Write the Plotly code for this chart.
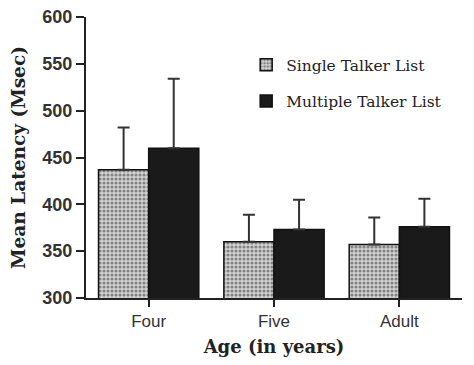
import plotly.graph_objects as go

categories = ["Four", "Five", "Adult"]
single_vals = [437, 360, 357]
single_err = [45, 29, 29]
multi_vals = [460, 373, 376]
multi_err = [74, 32, 30]
y_ticks = [300, 350, 400, 450, 500, 550, 600]

serif = "DejaVu Serif"
sans = "Liberation Sans"

fig = go.Figure()
fig.add_trace(go.Bar(
    x=categories, y=single_vals, name="Single Talker List",
    marker=dict(color="#d0d0d0", line=dict(color="#111", width=1.5),
                pattern=dict(shape=".", fgcolor="#333", bgcolor="#d4d4d4", size=4, solidity=0.5)),
    error_y=dict(type="data", symmetric=False, array=single_err, arrayminus=[0, 0, 0],
                 color="#333", thickness=2, width=6),
    legendgroup="a",
))
fig.add_trace(go.Bar(
    x=categories, y=multi_vals, name="Multiple Talker List",
    marker=dict(color="#1a1a1a", line=dict(color="#111", width=1.5)),
    error_y=dict(type="data", symmetric=False, array=multi_err, arrayminus=[0, 0, 0],
                 color="#333", thickness=2, width=6),
    legendgroup="b",
))

# page body has an 8px default margin, so the figure is sized/offset to compensate
fig.update_layout(
    width=466, height=357,
    margin=dict(l=78, r=12, t=9, b=67),
    paper_bgcolor="white", plot_bgcolor="white",
    barmode="group", bargap=0.2, bargroupgap=0,
    showlegend=True,
    legend=dict(x=0.426, y=0.889, xanchor="left", yanchor="top",
                font=dict(family=serif, size=15.5, color="#222"),
                traceorder="grouped", tracegroupgap=13,
                bgcolor="rgba(0,0,0,0)"),
    xaxis=dict(
        automargin=False,
        showline=True, linecolor="#222", linewidth=2,
        ticks="outside", ticklen=7, tickwidth=1.5, tickcolor="#222",
        tickfont=dict(family=sans, size=17, color="#333"),
        title=dict(text="Age (in years)", font=dict(family=serif, size=18, color="#222", weight="bold"),
                   standoff=10),
        range=[-0.5, 2.5],
    ),
    yaxis=dict(
        automargin=False, ticklabeloverflow="allow",
        range=[300, 600], tickvals=y_ticks,
        showline=True, linecolor="#222", linewidth=2,
        ticks="outside", ticklen=8, tickwidth=1.5, tickcolor="#222",
        showgrid=False, zeroline=False,
        tickfont=dict(family=sans, size=18, color="#333", weight="bold"),
        title=dict(text="Mean Latency (Msec)", font=dict(family=serif, size=18.5, color="#222", weight="bold"),
                   standoff=14),
    ),
)

fig.write_html("out.html")
